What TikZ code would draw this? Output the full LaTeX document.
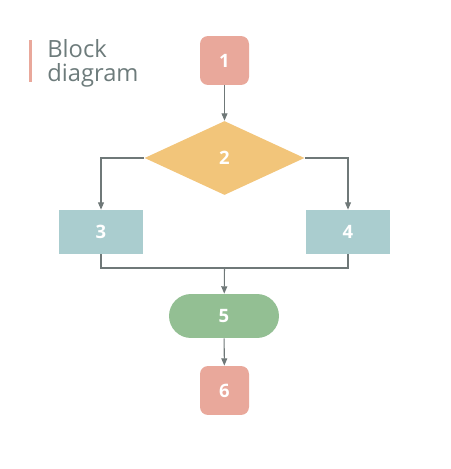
\documentclass[tikz,border=0pt]{standalone}
\usepackage{fontspec}
\setmainfont{Open Sans}
\usetikzlibrary{shapes.geometric,arrows.meta}
\definecolor{salmon}{HTML}{E9A89B}
\definecolor{sand}{HTML}{F2C57A}
\definecolor{teal}{HTML}{AACDCF}
\definecolor{sage}{HTML}{93BF93}
\definecolor{linegray}{HTML}{6F7878}
\definecolor{titlegray}{HTML}{6D7B7B}
\begin{document}
\begin{tikzpicture}[x=0.02cm,y=-0.02cm,
  >={Triangle[length=4.2pt,width=3.4pt]},
  link/.style={draw=linegray,line width=0.6pt},
  num/.style={text=white,font=\bfseries\fontsize{10.5}{12}\selectfont,inner sep=0pt},
  square/.style={num,fill=salmon,rounded corners=0.16cm,minimum size=0.98cm},
  decision/.style={num,diamond,fill=sand,minimum width=3.2cm,minimum height=1.48cm},
  block/.style={num,fill=teal,minimum width=1.68cm,minimum height=0.88cm},
  pill/.style={num,fill=sage,rounded corners=0.44cm,minimum width=2.2cm,minimum height=0.88cm}]
  \useasboundingbox (0,0) rectangle (450,469);
  \fill[salmon] (28.5,40) rectangle (31.5,82);
  \node[anchor=base west,align=left,inner sep=0pt,text=titlegray,
    font=\fontsize{13.5}{14.2}\selectfont] (title) at (47,82) {Block\\diagram};
  \node[square] (s1) at (224.5,60.5) {1};
  \node[decision] (d2) at (224.5,158) {2};
  \node[block] (b3) at (101,232) {3};
  \node[block] (b4) at (348,232) {4};
  \node[pill] (p5) at (224,316) {5};
  \node[square] (s6) at (224.5,390.5) {6};
  \coordinate (merge) at (224.5,268);
  \draw[link,->] (s1) -- (d2);
  \draw[link,->] (d2.west) -| (b3.north);
  \draw[link,->] (d2.east) -| (b4.north);
  \draw[link] (b3.south) |- (merge) -| (b4.south);
  \draw[link,->] (merge) -- (p5);
  \draw[link,->] (p5) -- (s6);
\end{tikzpicture}
\end{document}
